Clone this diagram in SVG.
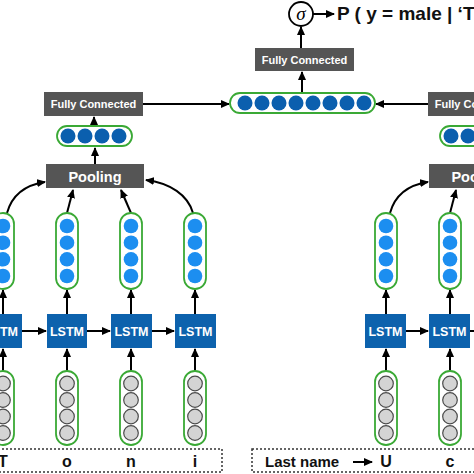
<svg xmlns="http://www.w3.org/2000/svg" width="474" height="474" viewBox="0 0 474 474">
<defs>
<marker id="ah" markerUnits="userSpaceOnUse" markerWidth="9" markerHeight="8" refX="8" refY="4" orient="auto">
<path d="M0,0 L9,4 L0,8 z" fill="#000"/>
</marker>
<style>
.gbox{fill:#555555}
.lstm{fill:#0d62ad}
.pill{fill:#fff;stroke:#3aa935;stroke-width:1.8}
.dc{fill:#0b5fae}
.bc{fill:#1c8ef0}
.gc{fill:#d4d4d4;stroke:#4a4a4a;stroke-width:1.2}
.wt{fill:#fff;font-family:"Liberation Sans",Arial,sans-serif;font-weight:bold;text-anchor:middle}
.bt{fill:#111;font-family:"Liberation Sans",Arial,sans-serif;font-weight:bold}
.ar{fill:none;stroke:#000;stroke-width:2;marker-end:url(#ah)}
.dot{fill:none;stroke:#333;stroke-width:1.5;stroke-dasharray:2 2}
</style>
</defs>
<rect width="474" height="474" fill="#fff"/>

<g id="connectors">
<path class="ar" d="M301,48 L301,27"/>
<path class="ar" d="M313,14 L334,14"/>
<path class="ar" d="M302,93 L302,72"/>
<path class="ar" d="M143,104 L229,104"/>
<path class="ar" d="M428,104 L376,104"/>
<path class="ar" d="M94,126 L94,117"/>
<path class="ar" d="M95,164 L95,148"/>
<path class="ar" d="M7,213 C12,195 25,185 45,182"/>
<path class="ar" d="M67,213 L73,190"/>
<path class="ar" d="M131,213 L121,190"/>
<path class="ar" d="M193,213 C188,195 170,183 146,180"/>
<path class="ar" d="M390,213 C395,195 408,185 428,182"/>
<path class="ar" d="M450,213 L456,190"/>
<path class="ar" d="M3,314 L3,290"/>
<path class="ar" d="M67,314 L67,290"/>
<path class="ar" d="M131,314 L131,290"/>
<path class="ar" d="M195,314 L195,290"/>
<path class="ar" d="M386,314 L386,290"/>
<path class="ar" d="M450,314 L450,290"/>
<path class="ar" d="M3,371 L3,349"/>
<path class="ar" d="M67,371 L67,349"/>
<path class="ar" d="M131,371 L131,349"/>
<path class="ar" d="M195,371 L195,349"/>
<path class="ar" d="M386,371 L386,349"/>
<path class="ar" d="M450,371 L450,349"/>
<path class="ar" d="M22,331 L46,331"/>
<path class="ar" d="M87,331 L110,331"/>
<path class="ar" d="M152,331 L174,331"/>
<path class="ar" d="M406,331 L428,331"/>
<path class="ar" d="M470,331 L484,331"/>
<path class="ar" d="M353,462 L372,462"/>
</g>

<g id="sigma">
<circle cx="301" cy="14" r="12" fill="#fff" stroke="#000" stroke-width="1.8"/>
<text x="301" y="20" font-family="Liberation Serif,serif" font-style="italic" font-size="19" text-anchor="middle">σ</text>
</g>
<g id="output-label">
<text class="bt" x="337" y="20" font-size="19">P ( y = male | ‘T</text>
</g>

<g id="fc-top">
<rect class="gbox" x="255" y="48" width="99" height="23"/>
<text class="wt" x="304.5" y="63.5" font-size="11">Fully Connected</text>
</g>

<g id="concat-vector">
<rect class="pill" x="230" y="93" width="145" height="20" rx="10"/>
<circle class="dc" cx="245" cy="103" r="7.5"/>
<circle class="dc" cx="262" cy="103" r="7.5"/>
<circle class="dc" cx="279" cy="103" r="7.5"/>
<circle class="dc" cx="296" cy="103" r="7.5"/>
<circle class="dc" cx="313" cy="103" r="7.5"/>
<circle class="dc" cx="330" cy="103" r="7.5"/>
<circle class="dc" cx="347" cy="103" r="7.5"/>
<circle class="dc" cx="364" cy="103" r="7.5"/>
</g>

<g id="fc-left">
<rect class="gbox" x="44" y="92" width="99" height="24"/>
<text class="wt" x="93.5" y="108" font-size="11">Fully Connected</text>
</g>
<g id="fc-right">
<rect class="gbox" x="428" y="92" width="99" height="24"/>
<text class="wt" x="477.5" y="108" font-size="11">Fully Connected</text>
</g>

<g id="pooled-left">
<rect class="pill" x="57" y="126" width="75" height="20" rx="10"/>
<circle class="dc" cx="68" cy="136" r="7.5"/>
<circle class="dc" cx="85" cy="136" r="7.5"/>
<circle class="dc" cx="102" cy="136" r="7.5"/>
<circle class="dc" cx="119" cy="136" r="7.5"/>
</g>
<g id="pooled-right">
<rect class="pill" x="440" y="126" width="75" height="20" rx="10"/>
<circle class="dc" cx="451" cy="136" r="7.5"/>
<circle class="dc" cx="468" cy="136" r="7.5"/>
</g>

<g id="pool-left">
<rect class="gbox" x="46" y="164" width="98" height="24"/>
<text class="wt" x="95" y="181.5" font-size="14.5">Pooling</text>
</g>
<g id="pool-right">
<rect class="gbox" x="429" y="164" width="98" height="24"/>
<text class="wt" x="478" y="181.5" font-size="14.5">Pooling</text>
</g>

<g id="hidden-0">
<rect class="pill" x="-8" y="213" width="22" height="76" rx="11"/>
<circle class="bc" cx="3" cy="226" r="7.3"/><circle class="bc" cx="3" cy="242.7" r="7.3"/><circle class="bc" cx="3" cy="259.3" r="7.3"/><circle class="bc" cx="3" cy="276" r="7.3"/>
</g>
<g id="hidden-1">
<rect class="pill" x="56" y="213" width="22" height="76" rx="11"/>
<circle class="bc" cx="67" cy="226" r="7.3"/><circle class="bc" cx="67" cy="242.7" r="7.3"/><circle class="bc" cx="67" cy="259.3" r="7.3"/><circle class="bc" cx="67" cy="276" r="7.3"/>
</g>
<g id="hidden-2">
<rect class="pill" x="120" y="213" width="22" height="76" rx="11"/>
<circle class="bc" cx="131" cy="226" r="7.3"/><circle class="bc" cx="131" cy="242.7" r="7.3"/><circle class="bc" cx="131" cy="259.3" r="7.3"/><circle class="bc" cx="131" cy="276" r="7.3"/>
</g>
<g id="hidden-3">
<rect class="pill" x="184" y="213" width="22" height="76" rx="11"/>
<circle class="bc" cx="195" cy="226" r="7.3"/><circle class="bc" cx="195" cy="242.7" r="7.3"/><circle class="bc" cx="195" cy="259.3" r="7.3"/><circle class="bc" cx="195" cy="276" r="7.3"/>
</g>
<g id="hidden-4">
<rect class="pill" x="375" y="213" width="22" height="76" rx="11"/>
<circle class="bc" cx="386" cy="226" r="7.3"/><circle class="bc" cx="386" cy="242.7" r="7.3"/><circle class="bc" cx="386" cy="259.3" r="7.3"/><circle class="bc" cx="386" cy="276" r="7.3"/>
</g>
<g id="hidden-5">
<rect class="pill" x="439" y="213" width="22" height="76" rx="11"/>
<circle class="bc" cx="450" cy="226" r="7.3"/><circle class="bc" cx="450" cy="242.7" r="7.3"/><circle class="bc" cx="450" cy="259.3" r="7.3"/><circle class="bc" cx="450" cy="276" r="7.3"/>
</g>

<g id="lstm-0"><rect class="lstm" x="-18" y="314" width="40" height="34"/><text class="wt" x="1" y="335.5" font-size="12.5">LSTM</text></g>
<g id="lstm-1"><rect class="lstm" x="47" y="314" width="40" height="34"/><text class="wt" x="67" y="335.5" font-size="12.5">LSTM</text></g>
<g id="lstm-2"><rect class="lstm" x="111" y="314" width="41" height="34"/><text class="wt" x="131.5" y="335.5" font-size="12.5">LSTM</text></g>
<g id="lstm-3"><rect class="lstm" x="175" y="314" width="41" height="34"/><text class="wt" x="195.5" y="335.5" font-size="12.5">LSTM</text></g>
<g id="lstm-4"><rect class="lstm" x="365" y="314" width="41" height="34"/><text class="wt" x="385.5" y="335.5" font-size="12.5">LSTM</text></g>
<g id="lstm-5"><rect class="lstm" x="429" y="314" width="41" height="34"/><text class="wt" x="449.5" y="335.5" font-size="12.5">LSTM</text></g>

<g id="input-0">
<rect class="pill" x="-8" y="371" width="22" height="74" rx="11"/>
<circle class="gc" cx="3" cy="383.5" r="7.3"/><circle class="gc" cx="3" cy="400" r="7.3"/><circle class="gc" cx="3" cy="416.5" r="7.3"/><circle class="gc" cx="3" cy="433" r="7.3"/>
</g>
<g id="input-1">
<rect class="pill" x="56" y="371" width="22" height="74" rx="11"/>
<circle class="gc" cx="67" cy="383.5" r="7.3"/><circle class="gc" cx="67" cy="400" r="7.3"/><circle class="gc" cx="67" cy="416.5" r="7.3"/><circle class="gc" cx="67" cy="433" r="7.3"/>
</g>
<g id="input-2">
<rect class="pill" x="120" y="371" width="22" height="74" rx="11"/>
<circle class="gc" cx="131" cy="383.5" r="7.3"/><circle class="gc" cx="131" cy="400" r="7.3"/><circle class="gc" cx="131" cy="416.5" r="7.3"/><circle class="gc" cx="131" cy="433" r="7.3"/>
</g>
<g id="input-3">
<rect class="pill" x="184" y="371" width="22" height="74" rx="11"/>
<circle class="gc" cx="195" cy="383.5" r="7.3"/><circle class="gc" cx="195" cy="400" r="7.3"/><circle class="gc" cx="195" cy="416.5" r="7.3"/><circle class="gc" cx="195" cy="433" r="7.3"/>
</g>
<g id="input-4">
<rect class="pill" x="375" y="371" width="22" height="74" rx="11"/>
<circle class="gc" cx="386" cy="383.5" r="7.3"/><circle class="gc" cx="386" cy="400" r="7.3"/><circle class="gc" cx="386" cy="416.5" r="7.3"/><circle class="gc" cx="386" cy="433" r="7.3"/>
</g>
<g id="input-5">
<rect class="pill" x="439" y="371" width="22" height="74" rx="11"/>
<circle class="gc" cx="450" cy="383.5" r="7.3"/><circle class="gc" cx="450" cy="400" r="7.3"/><circle class="gc" cx="450" cy="416.5" r="7.3"/><circle class="gc" cx="450" cy="433" r="7.3"/>
</g>

<g id="first-name-box">
<rect class="dot" x="-10" y="449" width="232" height="23"/>
<text class="bt" x="3" y="467" font-size="16" text-anchor="middle">T</text>
<text class="bt" x="67" y="467" font-size="16" text-anchor="middle">o</text>
<text class="bt" x="131" y="467" font-size="16" text-anchor="middle">n</text>
<text class="bt" x="195" y="467" font-size="16" text-anchor="middle">i</text>
</g>
<g id="last-name-box">
<rect class="dot" x="252" y="449" width="240" height="23"/>
<text class="bt" x="265" y="467" font-size="15">Last name</text>
<text class="bt" x="386" y="467" font-size="16" text-anchor="middle">U</text>
<text class="bt" x="450" y="467" font-size="16" text-anchor="middle">c</text>
</g>
</svg>
